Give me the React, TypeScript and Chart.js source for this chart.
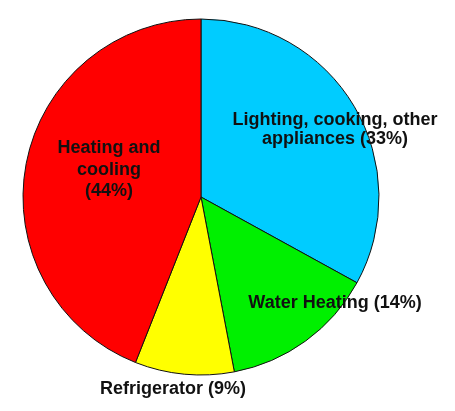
import { useEffect, useRef } from 'react';
import { Chart, registerables } from 'chart.js';

Chart.register(...registerables);

// slices, clockwise from 12 o'clock
const categories = ['Lighting, cooking, other appliances', 'Water Heating', 'Refrigerator', 'Heating and cooling'];
const shares = [33, 14, 9, 44];
const sliceColors = ['#00CCFF', '#00F000', '#FFFF00', '#FF0000'];

// label text lines (as printed on the chart)
const labelLines = [
  ['Lighting, cooking, other', 'appliances (33%)'],
  ['Water Heating (14%)'],
  ['Refrigerator (9%)'],
  ['Heating and', 'cooling', '(44%)'],
];

// where each label sits, in units of the pie radius from the centre (first baseline)
const labelSpots = [
  { dx: 0.753, dy: -0.404, lh: 19 },
  { dx: 0.753, dy: 0.624, lh: 20 },
  { dx: -0.157, dy: 1.107, lh: 20 },
  { dx: -0.517, dy: -0.247, lh: 21.5 },
];

const sliceLabels = {
  id: 'sliceLabels',
  afterDraw(chart: any) {
    const meta = chart.getDatasetMeta(0);
    const arc = meta.data[0];
    if (!arc) return;
    const { x, y, outerRadius } = arc.getProps(['x', 'y', 'outerRadius'], true);
    const ctx = chart.ctx;
    ctx.save();
    ctx.font = 'bold 18px "Liberation Sans", Arial, sans-serif';
    ctx.fillStyle = '#111';
    ctx.textAlign = 'center';
    ctx.textBaseline = 'alphabetic';
    labelLines.forEach((lines, i) => {
      const spot = labelSpots[i];
      const lx = x + spot.dx * outerRadius;
      const ly = y + spot.dy * outerRadius;
      lines.forEach((line, j) => ctx.fillText(line, lx, ly + j * spot.lh));
    });
    ctx.restore();
  },
};

export default function App() {
  const chartRef = useRef<HTMLCanvasElement>(null);
  const chartInstance = useRef<Chart | null>(null);

  useEffect(() => {
    if (!chartRef.current) return;
    if (chartInstance.current) {
      chartInstance.current.destroy();
    }
    const ctx = chartRef.current.getContext('2d');
    if (!ctx) return;

    chartInstance.current = new Chart(ctx, {
      type: 'pie',
      data: {
        labels: categories,
        datasets: [{
          data: shares,
          backgroundColor: sliceColors,
          borderColor: '#111',
          borderWidth: 1,
        }]
      },
      options: {
        animation: false,
        responsive: true,
        maintainAspectRatio: false,
        layout: {
          padding: { left: 22.5, top: 18.5, right: 75.5, bottom: 35.5 }
        },
        plugins: {
          legend: { display: false },
          tooltip: { enabled: false }
        }
      },
      plugins: [sliceLabels]
    });

    return () => {
      if (chartInstance.current) {
        chartInstance.current.destroy();
        chartInstance.current = null;
      }
    };
  }, []);

  return (
    <div style={{ position: 'absolute', left: 0, top: 0, width: 455, height: 411, background: '#fff' }}>
      <canvas ref={chartRef} />
    </div>
  );
}
